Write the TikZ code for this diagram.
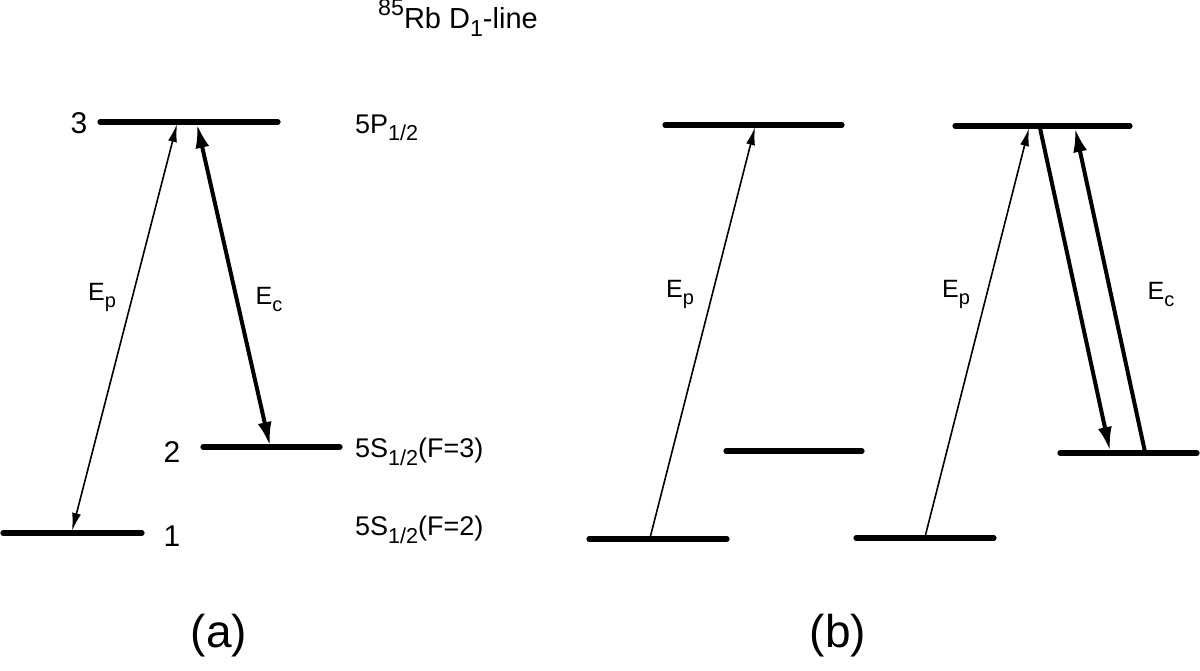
\documentclass[tikz,border=0pt]{standalone}
\usepackage{fontspec}
\setmainfont{Liberation Sans}
\usepackage{graphicx}
\usetikzlibrary{arrows.meta}

% larger sub- and superscripts, as printed in the figure
\newcommand\lowidx[1]{\raisebox{-0.28em}{\scalebox{0.8}{#1}}}
\newcommand\highidx[1]{\raisebox{0.42em}{\scalebox{0.8}{#1}}}

\tikzset{
  level/.style={line width=2.6pt, line cap=round},
  probe/.style={line width=0.8pt},
  couple/.style={line width=2pt},
  thintip/.tip={Latex[length=9pt, width=4.5pt]},
  thicktip/.tip={Latex[length=12pt, width=7pt]},
  lbl/.style={font=\fontsize{15}{18}\selectfont},
  state/.style={font=\fontsize{13.5}{16}\selectfont, anchor=west},
  field/.style={font=\fontsize{12.5}{15}\selectfont},
  caption/.style={font=\fontsize{23}{26}\selectfont},
}

\begin{document}
\begin{tikzpicture}[x=0.5pt, y=-0.5pt]
\useasboundingbox (0,0) rectangle (1200,670);

% title
\node[font=\fontsize{14.5}{17}\selectfont] (title) at (458, 18) {\highidx{85}Rb D\lowidx{1}-line};

% (a): three levels
\coordinate (a3l) at (100, 122); \coordinate (a3r) at (278, 122);
\coordinate (a2l) at (203, 447); \coordinate (a2r) at (340, 447);
\coordinate (a1l) at (3, 533);   \coordinate (a1r) at (142, 533);
\draw[level] (a3l) -- (a3r);
\draw[level] (a2l) -- (a2r);
\draw[level] (a1l) -- (a1r);
\node[lbl] (n3) at (79, 123) {3};
\node[lbl] (n2) at (172, 452) {2};
\node[lbl] (n1) at (172, 536) {1};
\node[state] (s3) at (348, 128) {5P\lowidx{1/2}};
\node[state] (s2) at (348, 452) {5S\lowidx{1/2}(F=3)};
\node[state] (s1) at (348, 530) {5S\lowidx{1/2}(F=2)};

% (a): transitions
\coordinate (ap1) at (72, 531);  \coordinate (ap3) at (177, 124);
\coordinate (ac3) at (197, 124); \coordinate (ac2) at (270, 446);
\draw[probe, thintip-thintip] (ap1) -- (ap3);
\draw[couple, thicktip-thicktip] (ac3) -- (ac2);
\node[field] (epa) at (102, 297) {E\lowidx{p}};
\node[field] (eca) at (269, 299) {E\lowidx{c}};
\node[caption] (capa) at (219, 636) {(a)};

% (b), left: probe only
\coordinate (b3l) at (665, 125); \coordinate (b3r) at (842, 125);
\coordinate (b2l) at (726, 451); \coordinate (b2r) at (862, 451);
\coordinate (b1l) at (589, 539); \coordinate (b1r) at (727, 539);
\draw[level] (b3l) -- (b3r);
\draw[level] (b2l) -- (b2r);
\draw[level] (b1l) -- (b1r);
\coordinate (bp1) at (650, 538); \coordinate (bp3) at (755, 127);
\draw[probe, -thintip] (bp1) -- (bp3);
\node[field] (epb) at (680, 294) {E\lowidx{p}};

% (b), right: probe and coupling
\coordinate (c3l) at (955, 126);  \coordinate (c3r) at (1130, 126);
\coordinate (c2l) at (1060, 453); \coordinate (c2r) at (1197, 453);
\coordinate (c1l) at (856, 538);  \coordinate (c1r) at (994, 538);
\draw[level] (c3l) -- (c3r);
\draw[level] (c2l) -- (c2r);
\draw[level] (c1l) -- (c1r);
\coordinate (cp1) at (925, 537);  \coordinate (cp3) at (1029, 128);
\coordinate (cd3) at (1040, 128); \coordinate (cd2) at (1110, 451);
\coordinate (cu2) at (1145, 452); \coordinate (cu3) at (1075, 128);
\draw[probe, -thintip] (cp1) -- (cp3);
\draw[couple, -thicktip] (cd3) -- (cd2);
\draw[couple, -thicktip] (cu2) -- (cu3);
\node[field] (epc) at (956, 294) {E\lowidx{p}};
\node[field] (ecc) at (1161, 294) {E\lowidx{c}};
\node[caption] (capb) at (838, 636) {(b)};
\end{tikzpicture}
\end{document}
